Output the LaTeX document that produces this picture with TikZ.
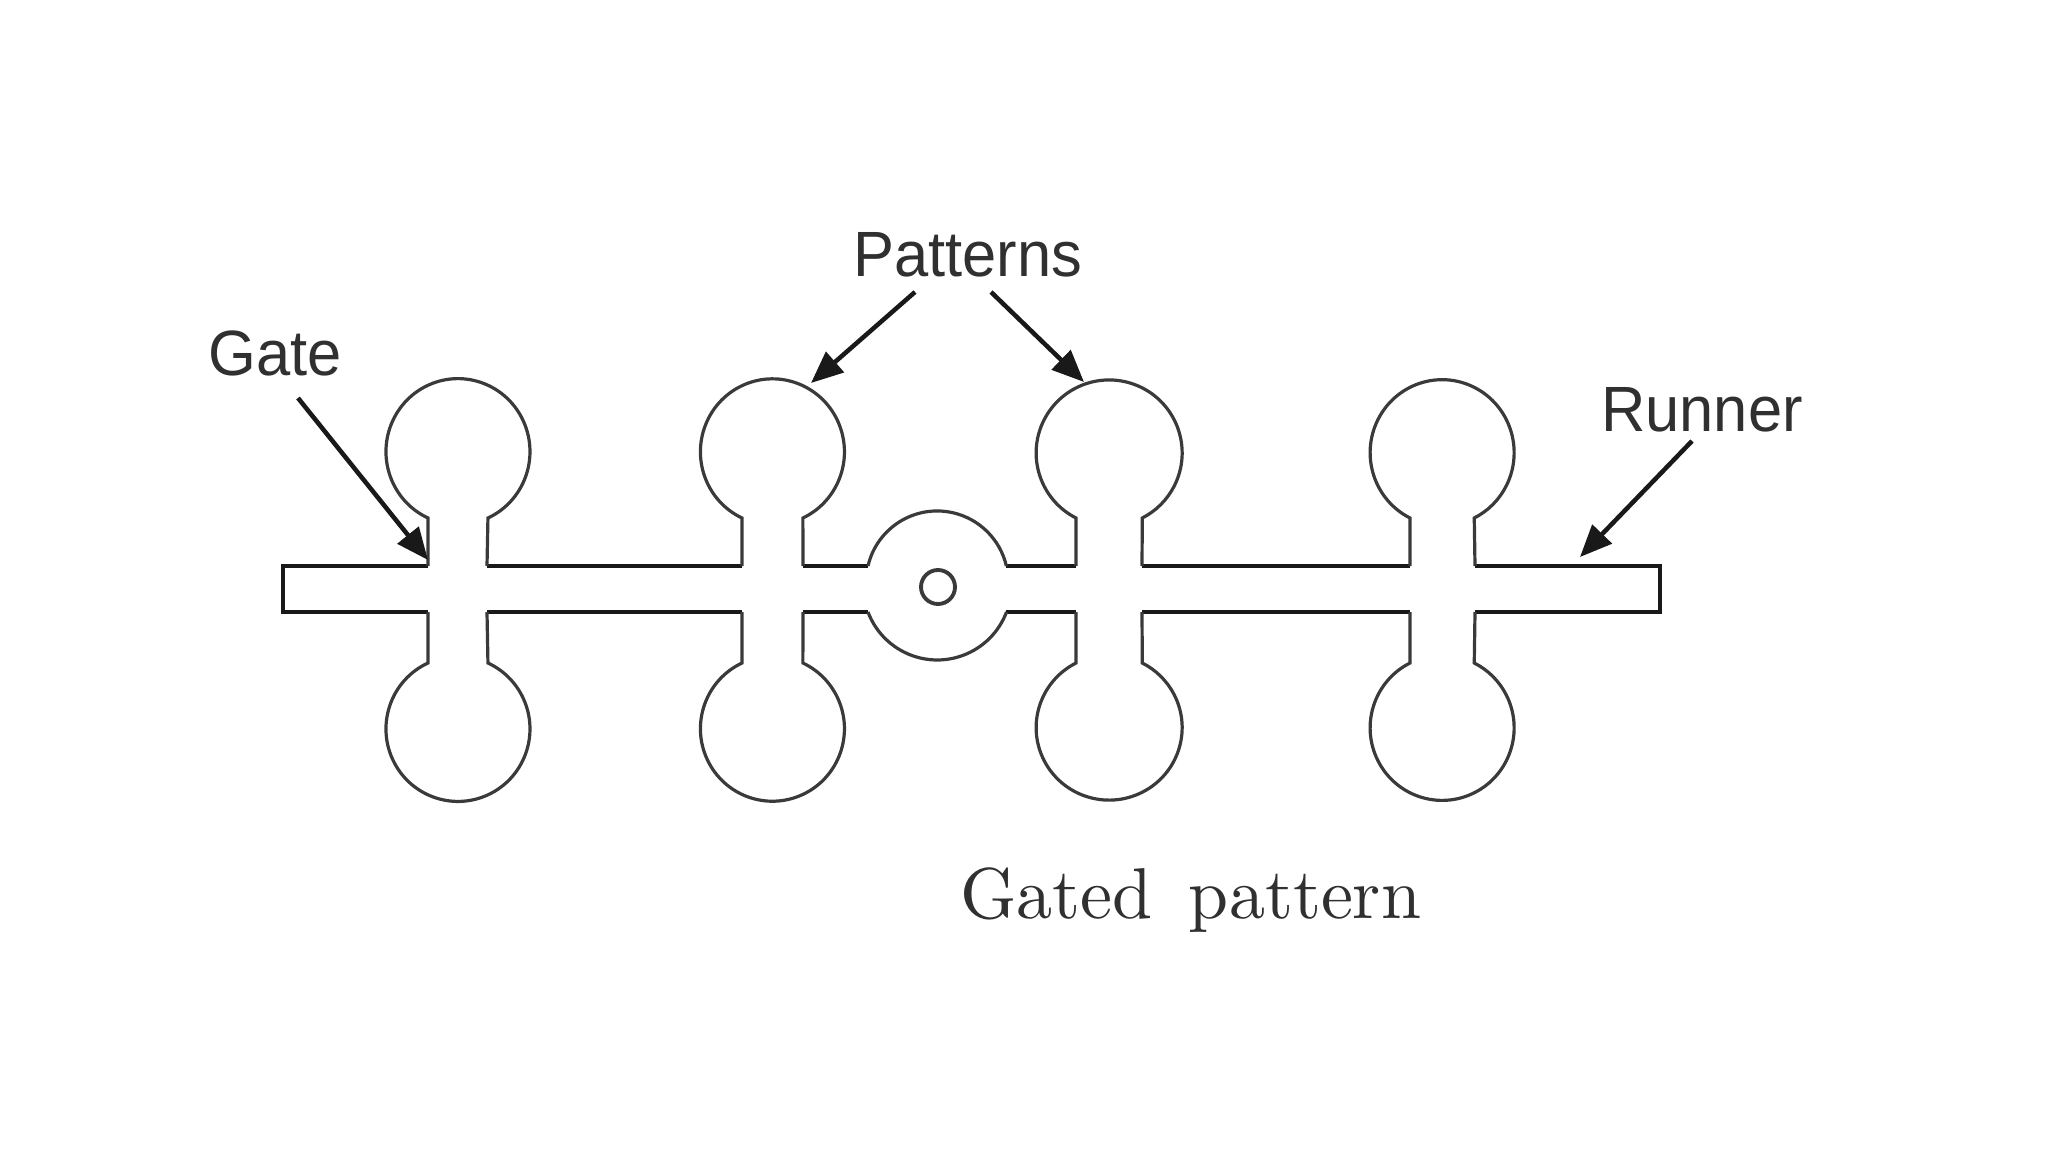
\documentclass[tikz,border=0pt]{standalone}
\usepackage{fontspec}
\usetikzlibrary{arrows.meta}
\newfontfamily\calloutfont[FakeStretch=0.96]{Liberation Sans}
\definecolor{outline}{HTML}{3A3A3A}
\definecolor{lettering}{HTML}{303030}
\tikzset{
  castline/.style={outline,line width=2.4pt,line join=miter},
  runnerline/.style={black!90,line width=3.2pt,line join=miter},
  pointer/.style={black!90,line width=3.4pt,-{Triangle[length=24pt,width=20pt]}},
  callout/.style={anchor=base west,inner sep=0pt,text=lettering,font=\calloutfont\fontsize{48}{50}\selectfont},
  caption/.style={anchor=base west,inner sep=0pt,text=lettering,scale=5.4,font=\fontsize{10}{12}\selectfont},
}

\begin{document}
\begin{tikzpicture}[x=0.75pt,y=0.75pt,yscale=-1]
\useasboundingbox (0,0) rectangle (2048,1152);

%Shape: Runner left end
\draw[runnerline] (428,566) -- (283,566) -- (283,612) -- (428,612);
%Shape: Runner right end
\draw[runnerline] (1475,566) -- (1660,566) -- (1660,612) -- (1475,612);
%Shape: Runner between patterns
\draw[runnerline] (487,566) -- (742,566);
\draw[runnerline] (487,612) -- (742,612);
\draw[runnerline] (803,566) -- (868,566);
\draw[runnerline] (803,612) -- (868,612);
\draw[runnerline] (1006,566) -- (1076,566);
\draw[runnerline] (1006,612) -- (1076,612);
\draw[runnerline] (1142,566) -- (1410,566);
\draw[runnerline] (1142,612) -- (1410,612);

%Shape: Upper patterns
\draw[castline] (428,566) -- (428,518) arc[start angle=114.6,end angle=425.4,x radius=72,y radius=73] -- (487,566);
\draw[castline] (742,566) -- (742,518) arc[start angle=115,end angle=425,x radius=72,y radius=73] -- (803,566);
\draw[castline] (1076,566) -- (1076,518) arc[start angle=117,end angle=423,x radius=73,y radius=73] -- (1142,566);
\draw[castline] (1410,566) -- (1410,518) arc[start angle=116.5,end angle=423.5,x radius=72,y radius=73] -- (1475,566);
%Shape: Lower patterns
\draw[castline] (428,612) -- (428,663) arc[start angle=245.4,end angle=-65.4,x radius=72,y radius=72.5] -- (487,612);
\draw[castline] (742,612) -- (742,663) arc[start angle=245,end angle=-65,x radius=72,y radius=72.5] -- (803,612);
\draw[castline] (1076,612) -- (1076,663) arc[start angle=243,end angle=-63,x radius=73,y radius=72.5] -- (1142,612);
\draw[castline] (1410,612) -- (1410,663) arc[start angle=243.5,end angle=-63.5,x radius=72,y radius=72.5] -- (1475,612);

%Shape: Sprue boss
\draw[castline] (868,566) arc[start angle=193,end angle=347,radius=71];
\draw[castline] (868,612) arc[start angle=159.4,end angle=20.6,radius=74];
\draw[castline,line width=2.9pt] (938,587) circle (17);

% Text Node
\node[callout] (gatelabel) at (208,375) {Gate};
\node[callout] (patternslabel) at (853,276) {Patterns};
\node[callout] (runnerlabel) at (1601,431) {Runner};
\node[caption] (captionlabel) at (959,918) {Gated\hspace{.5em}pattern};

% Pointers
\coordinate (gatefoot) at (298,398);
\coordinate (gatetip) at (428,560);
\coordinate (patternfootl) at (915,292);
\coordinate (patterntipl) at (811,383);
\coordinate (patternfootr) at (991,292);
\coordinate (patterntipr) at (1084,382);
\coordinate (runnerfoot) at (1692,441);
\coordinate (runnertip) at (1580,557);
\draw[pointer] (gatefoot) -- (gatetip);
\draw[pointer] (patternfootl) -- (patterntipl);
\draw[pointer] (patternfootr) -- (patterntipr);
\draw[pointer] (runnerfoot) -- (runnertip);

\end{tikzpicture}
\end{document}
